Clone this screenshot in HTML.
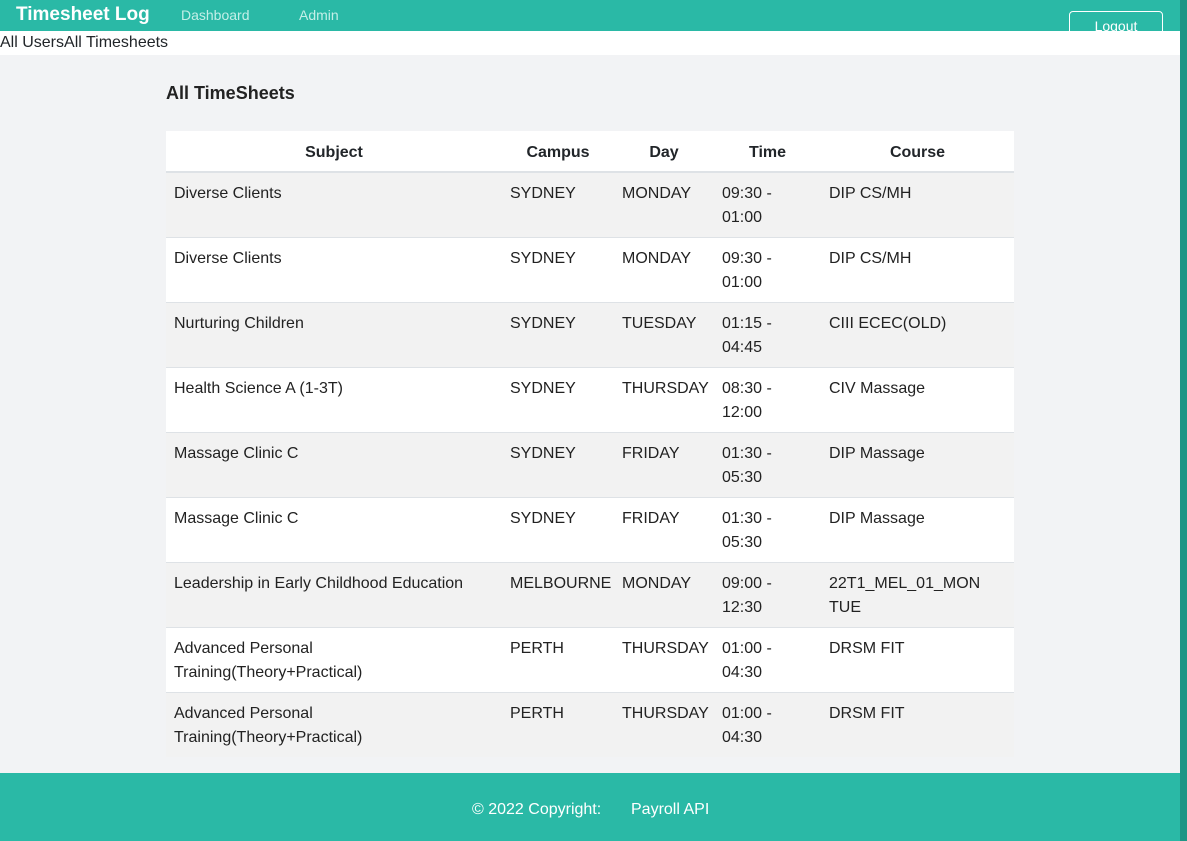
<!DOCTYPE html>
<html><head><meta charset="utf-8"><style>
*{margin:0;padding:0;box-sizing:border-box}
body{width:1187px;height:841px;overflow:hidden;background:#f2f3f5;font-family:"Liberation Sans",sans-serif;position:relative;color:#212529}
.nav{position:absolute;left:0;top:0;width:1180px;height:31px;background:#2ab9a6}
.brand{position:absolute;left:16px;top:4px;font-size:19px;font-weight:bold;color:#fff}
.nl{position:absolute;top:7px;font-size:14px;color:#c4efe8}
.logout{position:absolute;left:1069px;top:11px;width:94px;height:30px;border:1px solid #fff;border-radius:4px;color:#fff;font-size:14px;text-align:center;padding-top:6px}
.sub{position:absolute;left:0;top:31px;width:1180px;height:24px;background:#fff;font-size:16px;padding-top:3px}
.strip{position:absolute;left:1180px;top:0;width:7px;height:841px;background:#1e9585}
h2{position:absolute;left:166px;top:83px;font-size:18px;font-weight:bold;color:#222}
table{position:absolute;left:166px;top:131px;width:848px;border-collapse:collapse;font-size:16px;table-layout:fixed}
th{height:41px;font-weight:bold;text-align:center;border-bottom:2px solid #dee2e6;background:#fff;vertical-align:middle;padding-top:3px}
td{height:65px;vertical-align:top;padding:9px 8px 0 8px;line-height:24px;border-top:1px solid #dee2e6;color:#222}
tr.g td{background:#f2f2f2}
tr.w td{background:#fff}
.foot{position:absolute;left:0;top:773px;width:1180px;height:68px;background:#2ab9a6;color:#fff;font-size:16px}
</style></head><body>
<div class="nav">
<div class="brand">Timesheet Log</div>
<div class="nl" style="left:181px">Dashboard</div>
<div class="nl" style="left:299px">Admin</div>
</div>
<div class="logout">Logout</div>
<div class="sub"><span>All Users</span><span>All Timesheets</span></div>
<div class="strip"></div>
<h2>All TimeSheets</h2>
<table>
<colgroup><col style="width:336px"><col style="width:112px"><col style="width:100px"><col style="width:107px"><col style="width:193px"></colgroup>
<tr><th>Subject</th><th>Campus</th><th>Day</th><th>Time</th><th>Course</th></tr>
<tr class="g"><td>Diverse Clients</td><td>SYDNEY</td><td>MONDAY</td><td>09:30 - 01:00</td><td>DIP CS/MH</td></tr>
<tr class="w"><td>Diverse Clients</td><td>SYDNEY</td><td>MONDAY</td><td>09:30 - 01:00</td><td>DIP CS/MH</td></tr>
<tr class="g"><td>Nurturing Children</td><td>SYDNEY</td><td>TUESDAY</td><td>01:15 - 04:45</td><td>CIII ECEC(OLD)</td></tr>
<tr class="w"><td>Health Science A (1-3T)</td><td>SYDNEY</td><td>THURSDAY</td><td>08:30 - 12:00</td><td>CIV Massage</td></tr>
<tr class="g"><td>Massage Clinic C</td><td>SYDNEY</td><td>FRIDAY</td><td>01:30 - 05:30</td><td>DIP Massage</td></tr>
<tr class="w"><td>Massage Clinic C</td><td>SYDNEY</td><td>FRIDAY</td><td>01:30 - 05:30</td><td>DIP Massage</td></tr>
<tr class="g"><td>Leadership in Early Childhood Education</td><td style="white-space:nowrap">MELBOURNE</td><td>MONDAY</td><td>09:00 - 12:30</td><td>22T1_MEL_01_MON<br>TUE</td></tr>
<tr class="w"><td>Advanced Personal<br>Training(Theory+Practical)</td><td>PERTH</td><td style="white-space:nowrap">THURSDAY</td><td>01:00 - 04:30</td><td>DRSM FIT</td></tr>
<tr class="g"><td>Advanced Personal<br>Training(Theory+Practical)</td><td>PERTH</td><td style="white-space:nowrap">THURSDAY</td><td>01:00 - 04:30</td><td>DRSM FIT</td></tr>
</table>
<div class="foot">
<span style="position:absolute;left:472px;top:28px">© 2022 Copyright:</span>
<span style="position:absolute;left:631px;top:28px">Payroll API</span>
</div>
</body></html>
